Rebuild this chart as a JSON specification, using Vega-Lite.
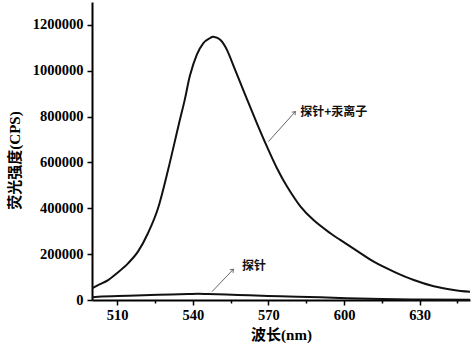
{
  "$schema": "https://vega.github.io/schema/vega-lite/v6.json",
  "width": 378,
  "height": 298,
  "autosize": {"type": "none"},
  "padding": {"left": 92, "top": 2, "right": 4, "bottom": 51},
  "background": "white",
  "config": {"view": {"stroke": null}, "font": "Liberation Serif"},
  "datasets": {
    "main": [
      {"wavelength": 500, "intensity": 51000},
      {"wavelength": 503, "intensity": 68000},
      {"wavelength": 506.4, "intensity": 87000},
      {"wavelength": 510, "intensity": 118000},
      {"wavelength": 514.3, "intensity": 160000},
      {"wavelength": 518.3, "intensity": 212000},
      {"wavelength": 522.2, "intensity": 291000},
      {"wavelength": 526.2, "intensity": 400000},
      {"wavelength": 530.2, "intensity": 568000},
      {"wavelength": 534.2, "intensity": 755000},
      {"wavelength": 536.8, "intensity": 873000},
      {"wavelength": 538.9, "intensity": 980000},
      {"wavelength": 541.6, "intensity": 1070000},
      {"wavelength": 544.2, "intensity": 1121000},
      {"wavelength": 546.9, "intensity": 1143000},
      {"wavelength": 548.2, "intensity": 1148000},
      {"wavelength": 550.9, "intensity": 1135000},
      {"wavelength": 553.5, "intensity": 1092000},
      {"wavelength": 556.8, "intensity": 1004000},
      {"wavelength": 560.8, "intensity": 895000},
      {"wavelength": 565.4, "intensity": 772000},
      {"wavelength": 569.4, "intensity": 670000},
      {"wavelength": 573.4, "intensity": 575000},
      {"wavelength": 577.4, "intensity": 495000},
      {"wavelength": 582.6, "intensity": 410000},
      {"wavelength": 587.9, "intensity": 349000},
      {"wavelength": 594.6, "intensity": 291000},
      {"wavelength": 598.5, "intensity": 262000},
      {"wavelength": 603.8, "intensity": 224000},
      {"wavelength": 611.8, "intensity": 167000},
      {"wavelength": 619.7, "intensity": 124000},
      {"wavelength": 627.7, "intensity": 87000},
      {"wavelength": 635.6, "intensity": 60000},
      {"wavelength": 643.5, "intensity": 44000},
      {"wavelength": 650, "intensity": 36000}
    ],
    "probe": [
      {"wavelength": 500, "intensity": 12000},
      {"wavelength": 502.4, "intensity": 14400},
      {"wavelength": 514.3, "intensity": 18800},
      {"wavelength": 526.2, "intensity": 23000},
      {"wavelength": 538.1, "intensity": 26000},
      {"wavelength": 542.1, "intensity": 27500},
      {"wavelength": 546.1, "intensity": 26000},
      {"wavelength": 558, "intensity": 21800},
      {"wavelength": 569.9, "intensity": 17500},
      {"wavelength": 574.7, "intensity": 16000},
      {"wavelength": 590.6, "intensity": 11800},
      {"wavelength": 601.2, "intensity": 7400},
      {"wavelength": 615, "intensity": 4000},
      {"wavelength": 630, "intensity": 2500},
      {"wavelength": 650, "intensity": 1500}
    ],
    "arrows": [
      {"x": 570, "y": 691000, "x2": 580.7, "y2": 822000},
      {"x": 547.6, "y": 36000, "x2": 556.1, "y2": 134000}
    ],
    "labels": [
      {"x": 582.6, "y": 822000, "text": "探针+汞离子"},
      {"x": 559.5, "y": 148000, "text": "探针"}
    ]
  },
  "layer": [
    {
      "data": {"name": "main"},
      "mark": {"type": "line", "color": "#111111", "strokeWidth": 2, "interpolate": "cardinal", "clip": true},
      "encoding": {
        "x": {
          "field": "wavelength", "type": "quantitative",
          "scale": {"domain": [500, 650], "nice": false, "zero": false},
          "axis": {
            "title": "波长(nm)",
            "values": [510, 525, 540, 555, 570, 585, 600, 615, 630, 645],
            "labelExpr": "datum.value % 30 == 0 ? datum.label : ''",
            "tickSize": {"condition": {"test": "datum.value % 30 == 0", "value": 5}, "value": 3},
            "grid": false,
            "domainColor": "#000000", "domainWidth": 2,
            "tickColor": "#000000", "tickWidth": 1.5,
            "labelFont": "Liberation Serif", "labelFontWeight": "bold", "labelFontSize": 14.5, "labelColor": "#000000",
            "labelPadding": 3,
            "titleFont": "Liberation Serif, Noto Sans CJK SC", "titleFontWeight": "bold", "titleFontSize": 15, "titleColor": "#000000",
            "titlePadding": 6
          }
        },
        "y": {
          "field": "intensity", "type": "quantitative",
          "scale": {"domain": [0, 1300000], "nice": false},
          "axis": {
            "title": "荧光强度(CPS)",
            "values": [0, 100000, 200000, 300000, 400000, 500000, 600000, 700000, 800000, 900000, 1000000, 1100000, 1200000],
            "format": "d",
            "labelExpr": "datum.value % 200000 == 0 ? datum.label : ''",
            "tickSize": {"condition": {"test": "datum.value % 200000 == 0", "value": 5}, "value": 3},
            "grid": false,
            "domainColor": "#000000", "domainWidth": 2,
            "tickColor": "#000000", "tickWidth": 1.5,
            "labelFont": "Liberation Serif", "labelFontWeight": "bold", "labelFontSize": 14.5, "labelColor": "#000000",
            "labelPadding": 4,
            "titleFont": "Liberation Serif, Noto Sans CJK SC", "titleFontWeight": "bold", "titleFontSize": 15, "titleColor": "#000000",
            "titlePadding": 10,
            "titleY": 158
          }
        }
      }
    },
    {
      "data": {"name": "probe"},
      "mark": {"type": "line", "color": "#111111", "strokeWidth": 2, "interpolate": "monotone"},
      "encoding": {
        "x": {"field": "wavelength", "type": "quantitative"},
        "y": {"field": "intensity", "type": "quantitative"}
      }
    },
    {
      "data": {"name": "arrows"},
      "mark": {"type": "rule", "color": "#666666", "strokeWidth": 1},
      "encoding": {
        "x": {"field": "x", "type": "quantitative"},
        "y": {"field": "y", "type": "quantitative"},
        "x2": {"field": "x2"},
        "y2": {"field": "y2"}
      }
    },
    {
      "data": {"name": "arrows"},
      "mark": {"type": "point", "shape": "M-0.7,0.9L0,0L0.7,0.9", "filled": false, "color": "#666666", "strokeWidth": 1, "size": 40, "angle": 43, "opacity": 1},
      "encoding": {
        "x": {"field": "x2", "type": "quantitative"},
        "y": {"field": "y2", "type": "quantitative"}
      }
    },
    {
      "data": {"name": "labels"},
      "mark": {"type": "text", "align": "left", "baseline": "middle", "font": "Noto Sans CJK SC", "fontWeight": "bold", "fontSize": 12, "color": "#111111"},
      "encoding": {
        "x": {"field": "x", "type": "quantitative"},
        "y": {"field": "y", "type": "quantitative"},
        "text": {"field": "text"}
      }
    }
  ]
}
